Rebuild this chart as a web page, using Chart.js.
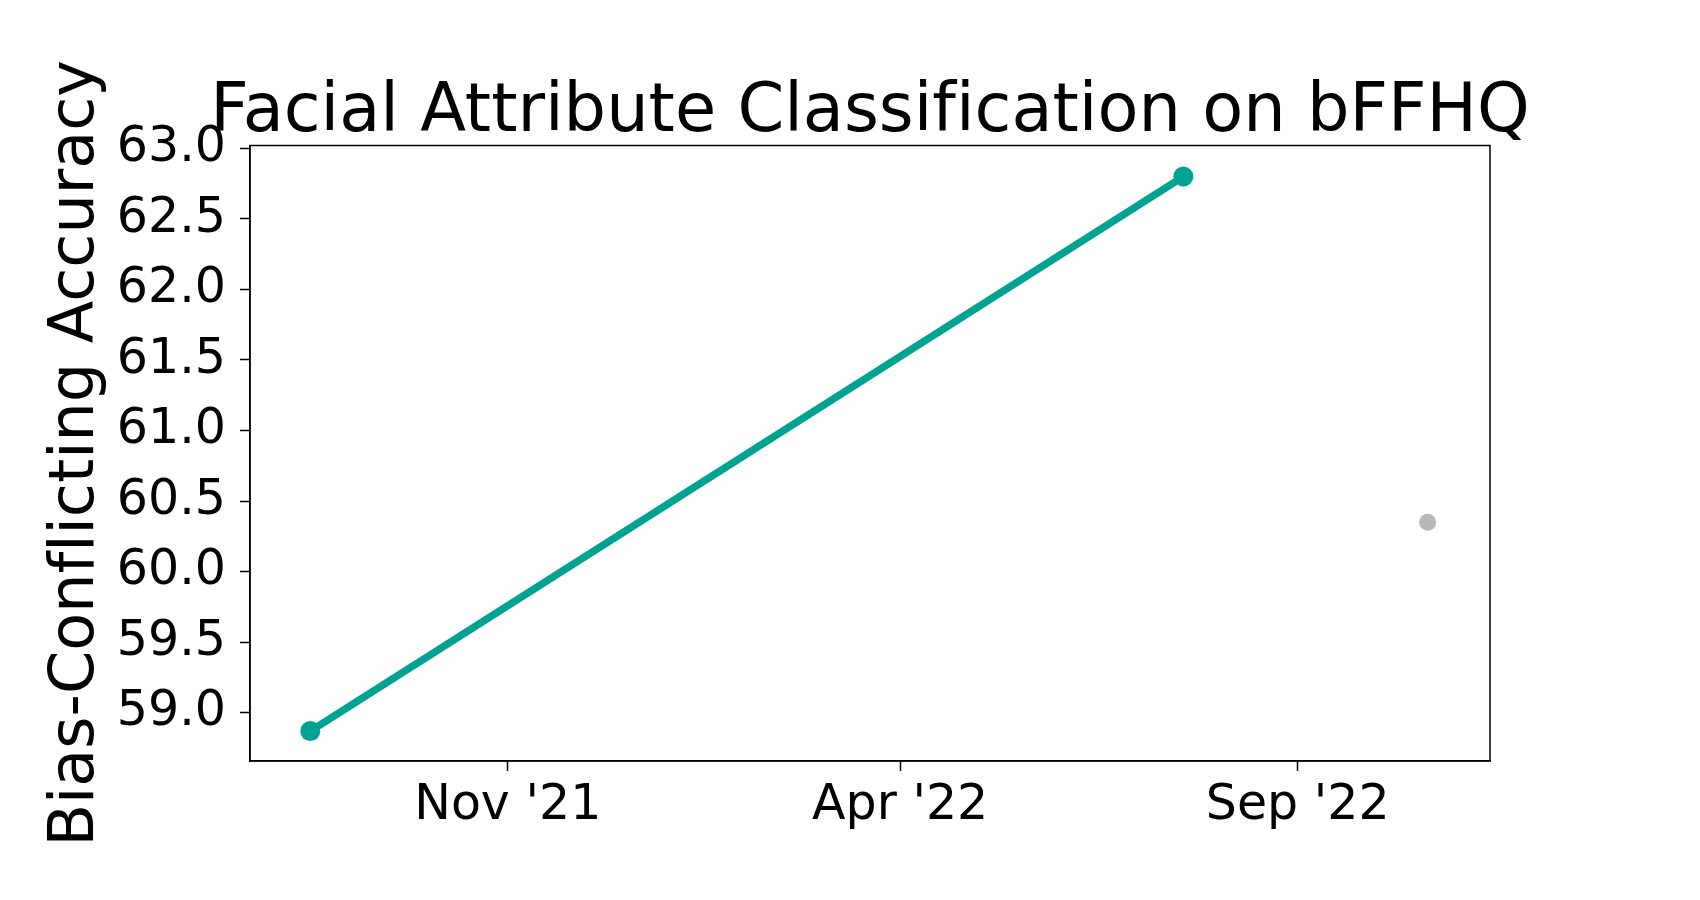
<!DOCTYPE html>
<html>
<head>
<meta charset="utf-8">
<script src="https://cdn.jsdelivr.net/npm/chart.js@4.4.0/dist/chart.umd.min.js"></script>
<style>
    html, body { margin: 0; padding: 0; background: #fff; }
    #wrap { width: 1700px; height: 900px; }
</style>
</head>
<body>
<div id="wrap"><canvas id="acc-chart" width="1700" height="900"></canvas></div>
<script>
// values
const lineDates = ['2021-08-17', '2022-07-19'];
const lineValues = [58.87, 62.80];
const greyDates = ['2022-10-21'];
const greyValues = [60.35];

const xTickDates = ['2021-11-01', '2022-04-01', '2022-09-01'];
const xTickLabels = ["Nov '21", "Apr '22", "Sep '22"];
const yTicks = [59.0, 59.5, 60.0, 60.5, 61.0, 61.5, 62.0, 62.5, 63.0];

const toMs = function (d) { return Date.parse(d + 'T00:00:00Z') };
const DAY = 86400000;

const font = 'DejaVu Sans';

// top + right spines, matplotlib style
const framePlugin = {
    id: 'frame',
    beforeDraw: function (chart) {
        // tiny letter spacing switches off the fi / fl ligatures, like matplotlib
        chart.ctx.letterSpacing = '0.01px'
    },
    beforeDatasetsDraw: function (chart) {
        const a = chart.chartArea
        const ctx = chart.ctx
        ctx.save()
        ctx.strokeStyle = '#000'
        ctx.lineWidth = 1.5
        ctx.strokeRect(a.left, a.top, a.right - a.left, a.bottom - a.top)
        ctx.restore()
    }
};

const data = {
    datasets: [{
        label: 'line',
        data: lineDates.map(function (d, i) { return { x: toMs(d), y: lineValues[i] } }),
        borderColor: '#00A392',
        backgroundColor: '#00A392',
        borderWidth: 7.5,
        pointRadius: 10,
        pointHoverRadius: 10,
        pointBorderWidth: 0,
        showLine: true
    }, {
        label: 'grey',
        data: greyDates.map(function (d, i) { return { x: toMs(d), y: greyValues[i] } }),
        borderColor: '#B8B8B8',
        backgroundColor: '#B8B8B8',
        pointRadius: 8.5,
        pointBorderWidth: 0,
        showLine: false
    }]
};

const config = {
    type: 'scatter',
    data: data,
    options: {
        responsive: false,
        animation: false,
        // left padding 40 + y axis 210 = 250; right axis 210 keeps the title centred on the plot
        layout: { padding: { left: 40, right: 0, top: 0, bottom: 0 } },
        plugins: {
            legend: { display: false },
            tooltip: { enabled: false },
            title: {
                display: true,
                text: 'Facial Attribute Classification on bFFHQ',
                color: '#000',
                font: { family: font, size: 67, weight: 'normal', lineHeight: 0.95 },
                padding: { top: 81.7, bottom: 0.15 }
            }
        },
        scales: {
            x: {
                type: 'linear',
                min: toMs('2021-11-01') - 99.2 * DAY,
                max: toMs('2022-09-01') + 74 * DAY,
                afterBuildTicks: function (scale) {
                    scale.ticks = xTickDates.map(function (d) { return { value: toMs(d) } })
                },
                afterFit: function (scale) { scale.height = 139 },
                ticks: {
                    color: '#000',
                    font: { family: font, size: 49 },
                    padding: 6,
                    maxRotation: 0,
                    autoSkip: false,
                    callback: function (v) {
                        const i = xTickDates.map(toMs).indexOf(v)
                        return i >= 0 ? xTickLabels[i] : ''
                    }
                },
                grid: { drawOnChartArea: false, color: '#000', tickLength: 10, tickWidth: 1.5 },
                border: { display: true, color: '#000', width: 1.5 }
            },
            y: {
                min: 58.658,
                max: 63.02,
                afterBuildTicks: function (scale) {
                    scale.ticks = yTicks.map(function (v) { return { value: v } })
                },
                afterFit: function (scale) { scale.width = 210 },
                ticks: {
                    color: '#000',
                    font: { family: font, size: 49 },
                    padding: 14,
                    autoSkip: false,
                    callback: function (v) { return Number(v).toFixed(1) }
                },
                grid: { drawOnChartArea: false, color: '#000', tickLength: 10, tickWidth: 1.5 },
                border: { display: true, color: '#000', width: 1.5 },
                title: {
                    display: true,
                    text: 'Bias-Conflicting Accuracy',
                    color: '#000',
                    font: { family: font, size: 62, lineHeight: 1 },
                    padding: { top: 6, bottom: 0 }
                }
            },
            yRight: {
                position: 'right',
                min: 58.658,
                max: 63.02,
                afterFit: function (scale) { scale.width = 210 },
                ticks: { display: false },
                grid: { display: false },
                border: { display: false }
            }
        }
    },
    plugins: [framePlugin]
};

const accChart = new Chart(document.getElementById('acc-chart'), config);
</script>
</body>
</html>
